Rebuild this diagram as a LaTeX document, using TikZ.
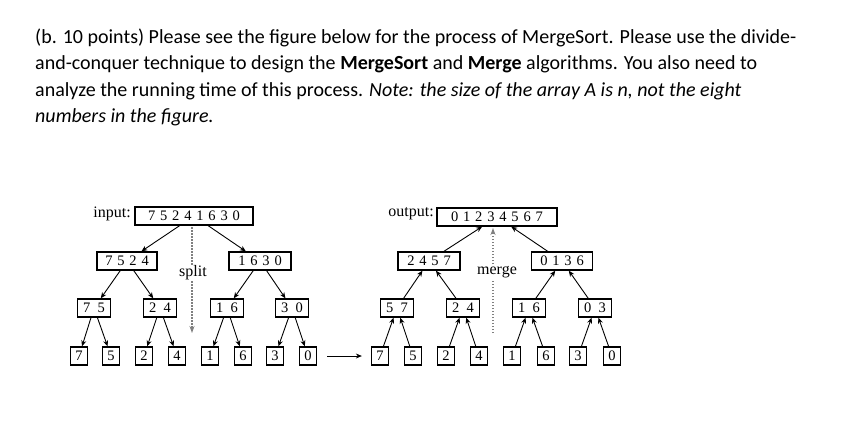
\documentclass[tikz,border=0pt]{standalone}
\usepackage{fontspec}
\setmainfont{Liberation Serif}
\newfontfamily\hdr{Carlito}
\usetikzlibrary{arrows.meta}
\begin{document}
\begin{tikzpicture}[x=1pt,y=-1pt,
  hline/.style={anchor=west,inner sep=0,font=\hdr\fontsize{20}{22}\selectfont},
  arr/.style={draw,line width=0.9pt,-{Stealth[length=6pt,width=5pt]}},
  dots/.style={draw,gray,line width=1.8pt,dash pattern=on 1.5pt off 1.5pt,-{Stealth[length=7pt,width=5pt]}},
  box/.style={draw,line width=1.3pt,fill=white,inner sep=1pt,minimum height=18pt,font=\fontsize{14.5}{14}\selectfont},
  lab/.style={inner sep=0,font=\fontsize{16}{16}\selectfont}]
\useasboundingbox (0,0) rectangle (853,441);
\fill[white] (0,0) rectangle (853,441);
\node[hline] (h1) at (35,38) {(b. 10 points) Please see the figure below for the process of MergeSort. Please use the divide-};
\node[hline] (h2) at (35,64) {and-conquer technique to design the \textbf{MergeSort} and \textbf{Merge} algorithms. You also need to};
\node[hline] (h3) at (35,91) {analyze the running time of this process. \textit{Note: the size of the array A is n, not the eight}};
\node[hline] (h4) at (35,117) {\textit{numbers in the figure.}};
% left tree
\node[box,minimum width=118pt] (i) at (194,216) {7\,\,5\,\,2\,\,4\,\,1\,\,6\,\,3\,\,0};
\node[lab,anchor=east] (il) at (131,214) {input:};
\node[box,minimum width=60pt] (a1) at (127,261) {7\,\,5\,\,2\,\,4};
\node[box,minimum width=62pt] (a2) at (260,261) {1\,\,6\,\,3\,\,0};
\foreach \n/\x/\t in {b1/94/7\enspace5,b2/160/2\enspace4,b3/227/1\enspace6,b4/292/3\enspace0}
  \node[box,minimum width=33pt] (\n) at (\x,308) {\t};
\foreach \n/\x/\t in {c1/79/7,c2/111/5,c3/144/2,c4/177/4,c5/210/1,c6/243/6,c7/275/3,c8/308/0}
  \node[box,minimum width=17pt] (\n) at (\x,356) {\t};
\foreach \p/\c in {i/a1,i/a2,a1/b1,a1/b2,a2/b3,a2/b4,b1/c1,b1/c2,b2/c3,b2/c4,b3/c5,b3/c6,b4/c7,b4/c8}
  \draw[arr] (\p) -- (\c);
\coordinate (s1) at (192,227); \coordinate (s2) at (192,333);
\draw[dots] (s1) -- (s2);
\node[lab,fill=white,inner sep=1pt] (sp) at (193,273) {split};
% right tree
\node[box,minimum width=120pt] (o) at (497,217) {0\,\,1\,\,2\,\,3\,\,4\,\,5\,\,6\,\,7};
\node[lab,anchor=east] (ol) at (434,214) {output:};
\node[box,minimum width=62pt] (d1) at (429,261) {2\,\,4\,\,5\,\,7};
\node[box,minimum width=61pt] (d2) at (562,261) {0\,\,1\,\,3\,\,6};
\foreach \n/\x/\t in {e1/397/5\enspace7,e2/463/2\enspace4,e3/529/1\enspace6,e4/595/0\enspace3}
  \node[box,minimum width=33pt] (\n) at (\x,308) {\t};
\foreach \n/\x/\t in {f1/380/7,f2/413/5,f3/446/2,f4/479/4,f5/512/1,f6/546/6,f7/578/3,f8/612/0}
  \node[box,minimum width=17pt] (\n) at (\x,356) {\t};
\foreach \p/\c in {o/d1,o/d2,d1/e1,d1/e2,d2/e3,d2/e4,e1/f1,e1/f2,e2/f3,e2/f4,e3/f5,e3/f6,e4/f7,e4/f8}
  \draw[arr] (\c) -- (\p);
\coordinate (m1) at (493,333); \coordinate (m2) at (493,228);
\draw[dots] (m1) -- (m2);
\node[lab,fill=white,inner sep=1pt] (mg) at (497,272) {merge};
\draw[arr,shorten <=10pt,shorten >=9pt] (c8) -- (f1);
\end{tikzpicture}
\end{document}
